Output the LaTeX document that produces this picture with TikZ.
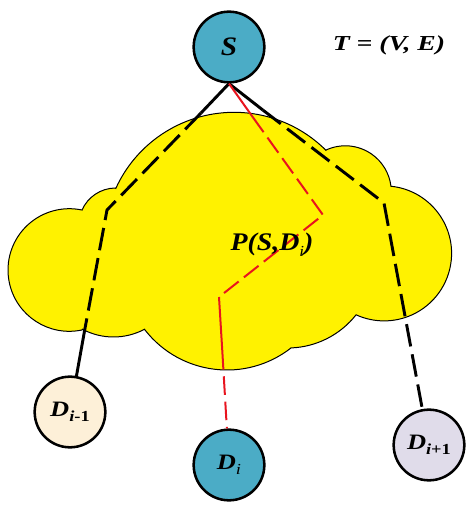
\documentclass[tikz,border=0pt]{standalone}
\usepackage{fontspec}
\setmainfont{Liberation Serif}
\definecolor{tealfill}{HTML}{4BACC6}
\definecolor{creamfill}{HTML}{FDF0D8}
\definecolor{lilacfill}{HTML}{E0DCEA}
\definecolor{pathred}{HTML}{E8141E}
\newcommand{\subtxt}[1]{\raisebox{-0.25em}{\fontsize{11.5}{11.5}\selectfont #1}}
\newcommand{\wide}[2]{\scalebox{#1}[1]{#2}}
\begin{document}
\begin{tikzpicture}[x=0.75pt,y=0.75pt,
  nd/.style={circle, draw=black, line width=1.9pt, minimum size=53pt, inner sep=0pt,
    font=\fontsize{16.5}{16.5}\selectfont\bfseries\itshape},
  blksolid/.style={line width=2.2pt},
  blkpath/.style={line width=2.2pt, dash pattern=on 17pt off 6pt},
  redsolid/.style={draw=pathred, line width=1.5pt},
  redpath/.style={draw=pathred, line width=1.5pt, dash pattern=on 14pt off 5pt},
  lbl/.style={inner sep=0pt, font=\fontsize{19}{19}\selectfont\bfseries\itshape}]
\useasboundingbox (0,0) rectangle (474,508);
% cloud
\filldraw[fill=yellow, draw=black, line width=0.75pt]
 ([shift={(69.3,238)}]-78:61.3) arc[start angle=-78,end angle=-282,radius=61.3]
 -- ([shift={(115.8,283.1)}]156.2:36.9) arc[start angle=156.2,end angle=91.2,radius=36.9]
 -- ([shift={(234.1,265.7)}]155.5:130) arc[start angle=155.5,end angle=45.1,radius=130]
 -- ([shift={(345.3,316.2)}]114.8:46) arc[start angle=114.8,end angle=7.2,radius=46]
 -- ([shift={(384.1,254.6)}]84.2:67.5) arc[start angle=84.2,end angle=-114.5,radius=67.5]
 -- ([shift={(287.7,247)}]-38.3:87) arc[start angle=-38.3,end angle=-87.8,radius=87]
 -- ([shift={(227,242)}]-52:104) arc[start angle=-52,end angle=-142,radius=104]
 -- ([shift={(113.5,237)}]-61.9:66) arc[start angle=-61.9,end angle=-118.1,radius=66]
 -- cycle;
% nodes
\node[nd, fill=tealfill, font=\fontsize{20}{20}\selectfont\bfseries\itshape] (S) at (229,461) {\wide{1.1}{S}};
\node[lbl, font=\fontsize{16}{16}\selectfont\bfseries\itshape] (T) at (389,463) {\wide{1.3}{T = (V, E)}};
\node[nd, fill=creamfill] (Dm) at (70,96) {\wide{1.2}{D\subtxt{\textit{i}\textup{-1}}}};
\node[nd, fill=tealfill] (Di) at (229,43) {\wide{1.2}{D\subtxt{\mdseries\textit{i}}}};
\node[nd, fill=lilacfill] (Dp) at (429,63) {\wide{1.2}{D\subtxt{\textit{i}\textup{+1}}}};
% bends and solid/dashed change points
\coordinate (bl) at (107,298);
\coordinate (bls) at (201,395);
\coordinate (ble) at (84.7,178);
\coordinate (br) at (384,305);
\coordinate (brs) at (262.8,398);
\coordinate (r1) at (323,293);
\coordinate (r2) at (219,211);
\coordinate (res) at (252.7,391);
\coordinate (rem) at (222.3,157);
% connectors
\draw[blksolid] (S.south) -- (bls);
\draw[blkpath] (bls) -- (bl) -- (ble);
\draw[blksolid] (ble) -- (Dm);
\draw[blksolid] (S.south) -- (brs);
\draw[blkpath] (brs) -- (br) -- (Dp);
\draw[redsolid] (S.south) -- (res);
\draw[redpath] (res) -- (r1) -- (r2);
\draw[redsolid] (r2) -- (rem);
\draw[redpath] (rem) -- (Di);
\node[lbl] (P) at (272,263) {\wide{1.1}{P(S,D\subtxt{\mdseries\textit{i}})}};
\end{tikzpicture}
\end{document}
